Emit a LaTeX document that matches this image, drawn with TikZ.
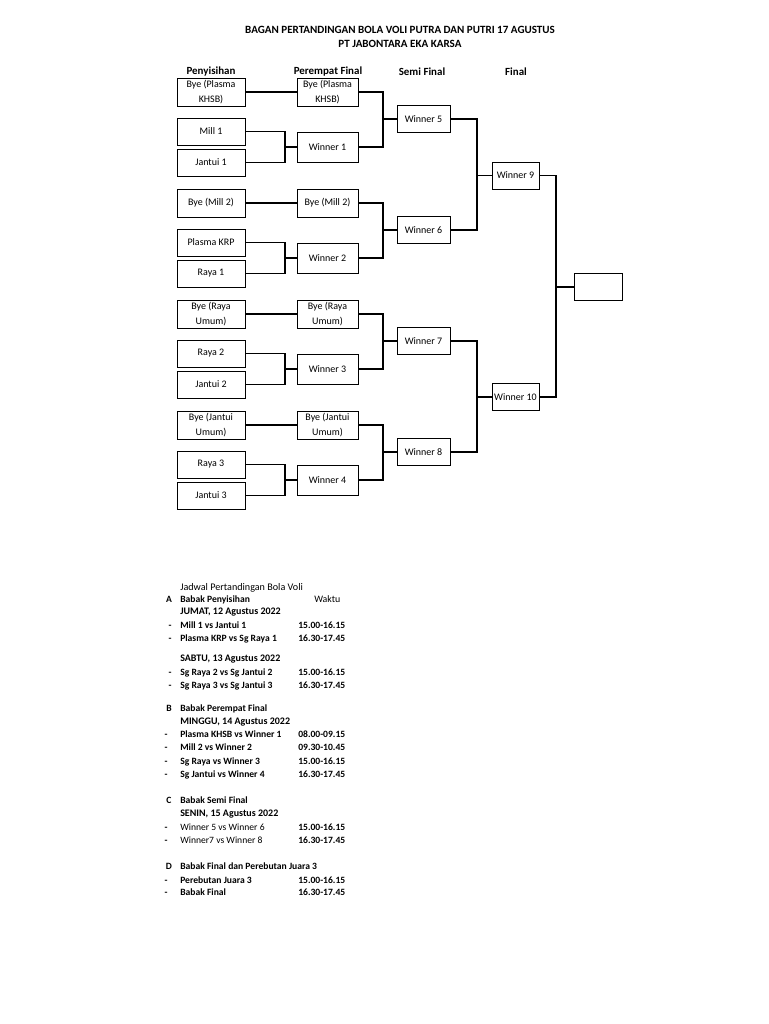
\documentclass[tikz,border=0pt]{standalone}
\usepackage{fontspec}
\setmainfont{Carlito}
\begin{document}
\begin{tikzpicture}[x=0.75pt,y=-0.75pt,
  bx/.style={draw,line width=0.6pt,inner sep=0pt,align=center,font=\fontsize{7.5}{10.6}\selectfont},
  c1/.style={bx,minimum width=51pt,minimum height=20.25pt},
  c1b/.style={bx,minimum width=51pt,minimum height=21pt},
  c2/.style={bx,minimum width=45.75pt,minimum height=21pt},
  c2w/.style={bx,minimum width=45.75pt,minimum height=22.5pt},
  c3/.style={bx,minimum width=39.75pt,minimum height=20.25pt},
  c4/.style={bx,minimum width=35.25pt,minimum height=20.25pt},
  c5/.style={bx,minimum width=36pt,minimum height=20.25pt},
  ln/.style={line width=1.3pt},
  lt/.style={line width=1.1pt},
  hd/.style={inner sep=0pt,font=\bfseries\fontsize{8.2}{9}\selectfont},
  tt/.style={inner sep=0pt,font=\bfseries\fontsize{8.3}{10}\selectfont},
  tx/.style={anchor=west,inner sep=0pt,text height=6pt,text depth=1.5pt,font=\fontsize{7.2}{9}\selectfont},
  txb/.style={tx,font=\bfseries\fontsize{7.2}{9}\selectfont},
  dt/.style={tx,font=\bfseries\fontsize{7.5}{9}\selectfont},
  mk/.style={inner sep=0pt,text height=6pt,text depth=1.5pt,font=\bfseries\fontsize{7.2}{9}\selectfont}
]
\fill[white] (0,0) rectangle (768,1024);
\useasboundingbox (0,0) rectangle (768,1024);

% title
\node[tt] (t1) at (400,30) {BAGAN PERTANDINGAN BOLA VOLI PUTRA DAN PUTRI 17 AGUSTUS};
\node[tt] (t2) at (400,44) {PT JABONTARA EKA KARSA};
\node[hd] (h1) at (211,72) {Penyisihan};
\node[hd] (h2) at (328,72) {Perempat Final};
\node[hd] (h3) at (422,72) {Semi Final};
\node[hd] (h4) at (516,72) {Final};

% round 1 (Penyisihan)
\node[c1b] (p1a) at (211,92) {Bye (Plasma\\KHSB)};
\node[c1]  (p1b) at (211,131.5) {Mill 1};
\node[c1]  (p1c) at (211,162.5) {Jantui 1};
\node[c1b] (p2a) at (211,203) {Bye (Mill 2)};
\node[c1]  (p2b) at (211,242.5) {Plasma KRP};
\node[c1]  (p2c) at (211,273.5) {Raya 1};
\node[c1b] (p3a) at (211,314) {Bye (Raya\\Umum)};
\node[c1]  (p3b) at (211,353.5) {Raya 2};
\node[c1]  (p3c) at (211,384.5) {Jantui 2};
\node[c1b] (p4a) at (211,425) {Bye (Jantui\\Umum)};
\node[c1]  (p4b) at (211,464.5) {Raya 3};
\node[c1]  (p4c) at (211,495.5) {Jantui 3};

% quarter final
\node[c2]  (r1a) at (327.5,92) {Bye (Plasma\\KHSB)};
\node[c2w] (r1b) at (327.5,147) {Winner 1};
\node[c2]  (r2a) at (327.5,203) {Bye (Mill 2)};
\node[c2w] (r2b) at (327.5,258) {Winner 2};
\node[c2]  (r3a) at (327.5,314) {Bye (Raya\\Umum)};
\node[c2w] (r3b) at (327.5,369) {Winner 3};
\node[c2]  (r4a) at (327.5,425) {Bye (Jantui\\Umum)};
\node[c2w] (r4b) at (327.5,480) {Winner 4};

% semi final
\node[c3] (s1) at (423.5,119) {Winner 5};
\node[c3] (s2) at (423.5,230) {Winner 6};
\node[c3] (s3) at (423.5,341) {Winner 7};
\node[c3] (s4) at (423.5,452) {Winner 8};

% final
\node[c4] (f1) at (515.5,175.5) {Winner 9};
\node[c4] (f2) at (515.5,397) {Winner 10};
\node[c5] (ch) at (598,287) {};

% junction coordinates
\coordinate (j1) at (285,147);
\coordinate (j2) at (285,258);
\coordinate (j3) at (285,369);
\coordinate (j4) at (285,480);
\coordinate (k1) at (383,119);
\coordinate (k2) at (383,230);
\coordinate (k3) at (383,341);
\coordinate (k4) at (383,452);
\coordinate (m1) at (477,175.5);
\coordinate (m2) at (477,397);
\coordinate (n1) at (556,287);

% connectors
\foreach \g in {1,2,3,4}{
  \draw[lt] (p\g a.east) -- (r\g a.west);
  \draw[ln] (p\g b.east) -| (j\g);
  \draw[ln] (p\g c.east) -| (j\g);
  \draw[ln] (j\g) -- (r\g b.west);
  \draw[ln] (r\g a.east) -| (k\g);
  \draw[ln] (r\g b.east) -| (k\g);
  \draw[ln] (k\g) -- (s\g.west);
}
\draw[ln] (s1.east) -| (m1);
\draw[ln] (s2.east) -| (m1);
\draw[ln] (m1) -- (f1.west);
\draw[ln] (s3.east) -| (m2);
\draw[ln] (s4.east) -| (m2);
\draw[ln] (m2) -- (f2.west);
\draw[ln] (f1.east) -| (n1);
\draw[ln] (f2.east) -| (n1);
\draw[ln] (n1) -- (ch.west);

% schedule
\node[tx,font=\fontsize{7.6}{9}\selectfont] (jd) at (180,587) {Jadwal Pertandingan Bola Voli};
\node[mk] (la) at (169,599) {A};
\node[txb] (a0) at (180,599) {Babak Penyisihan};
\node[tx,font=\fontsize{7.4}{9}\selectfont] (wk) at (314,599) {Waktu};
\node[dt] (a1) at (180,611) {JUMAT, 12 Agustus 2022};
\node[mk] (da1) at (170,625) {-};
\node[txb] (a2) at (180,625) {Mill 1 vs Jantui 1};
\node[txb] (ta2) at (298,625) {15.00-16.15};
\node[mk] (da2) at (170,638) {-};
\node[txb] (a3) at (180,638) {Plasma KRP vs Sg Raya 1};
\node[txb] (ta3) at (298,638) {16.30-17.45};
\node[dt] (a4) at (180,658) {SABTU, 13 Agustus 2022};
\node[mk] (da4) at (170,672) {-};
\node[txb] (a5) at (180,672) {Sg Raya 2 vs Sg Jantui 2};
\node[txb] (ta5) at (298,672) {15.00-16.15};
\node[mk] (da5) at (170,685) {-};
\node[txb] (a6) at (180,685) {Sg Raya 3 vs Sg Jantui 3};
\node[txb] (ta6) at (298,685) {16.30-17.45};

\node[mk] (lb) at (169,708) {B};
\node[txb] (b0) at (180,708) {Babak Perempat Final};
\node[dt] (b1) at (180,721) {MINGGU, 14 Agustus 2022};
\node[mk] (db2) at (166,734) {-};
\node[txb] (b2) at (180,734) {Plasma KHSB vs Winner 1};
\node[txb] (tb2) at (298,734) {08.00-09.15};
\node[mk] (db3) at (166,747) {-};
\node[txb] (b3) at (180,747) {Mill 2 vs Winner 2};
\node[txb] (tb3) at (298,747) {09.30-10.45};
\node[mk] (db4) at (166,761) {-};
\node[txb] (b4) at (180,761) {Sg Raya vs Winner 3};
\node[txb] (tb4) at (298,761) {15.00-16.15};
\node[mk] (db5) at (166,774) {-};
\node[txb] (b5) at (180,774) {Sg Jantui vs Winner 4};
\node[txb] (tb5) at (298,774) {16.30-17.45};

\node[mk] (lc) at (169,800) {C};
\node[txb] (c0) at (180,800) {Babak Semi Final};
\node[dt] (c1) at (180,813) {SENIN, 15 Agustus 2022};
\node[mk] (dc2) at (166,827) {-};
\node[tx] (c2) at (180,827) {Winner 5 vs Winner 6};
\node[txb] (tc2) at (298,827) {15.00-16.15};
\node[mk] (dc3) at (166,840) {-};
\node[tx] (c3) at (180,840) {Winner7 vs Winner 8};
\node[txb] (tc3) at (298,840) {16.30-17.45};

\node[mk] (ld) at (169,866) {D};
\node[txb] (d0) at (180,866) {Babak Final dan Perebutan Juara 3};
\node[mk] (dd2) at (166,880) {-};
\node[txb] (d2) at (180,880) {Perebutan Juara 3};
\node[txb] (td2) at (298,880) {15.00-16.15};
\node[mk] (dd3) at (166,892) {-};
\node[txb] (d3) at (180,892) {Babak Final};
\node[txb] (td3) at (298,892) {16.30-17.45};
\end{tikzpicture}
\end{document}
